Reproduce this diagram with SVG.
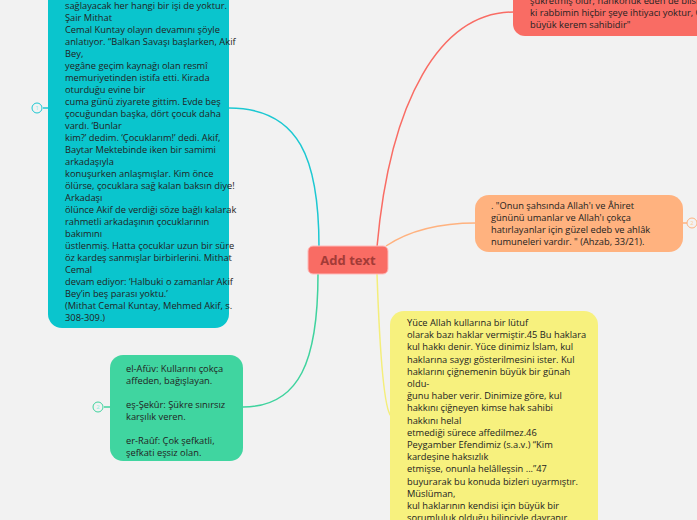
<svg xmlns="http://www.w3.org/2000/svg" width="697" height="520" viewBox="0 0 697 520">
<style>
text{font-family:"Open Sans","Noto Sans",sans-serif;font-size:9.3px;fill:#222}
.c{fill:none;stroke-width:1.5}
.m{fill:#f2f2f2;stroke-width:1}
.mt{font-size:6px;text-anchor:middle}
</style>
<rect width="697" height="520" fill="#f2f2f2"/>
<g id="connectors">
<path class="c" stroke="#1cc8d2" d="M319,247 C319,160 300,108 229,108"/>
<path class="c" stroke="#3fd39e" d="M318,274 C318,360 300,407 243,407"/>
<path class="c" stroke="#f96c64" d="M377,247 C390,100 440,12 514,12"/>
<path class="c" stroke="#ffb27f" d="M386,246 C410,230 440,223 476,223"/>
<path class="c" stroke="#f4ee7a" d="M377,274 C380,360 385,410 391,416"/>
<path class="c" stroke="#1cc8d2" d="M43,108 H48"/>
<path class="c" stroke="#3fd39e" d="M104,407 H110"/>
<path class="c" stroke="#ffb27f" d="M683,223 H687"/>
</g>
<g id="center">
<rect x="308" y="246" width="80" height="28" rx="5" fill="#f96c64" stroke="#fbb" stroke-width="1"/>
<text x="348" y="265" text-anchor="middle" style="font-size:13px;font-weight:bold;fill:#a33b37">Add text</text>
</g>
<g id="teal">
<rect x="48" y="-40" width="181" height="368" rx="14" fill="#0ac5cd"/>
<circle class="m" cx="37" cy="108" r="5" stroke="#1cc8d2"/><text class="mt" x="37" y="110" fill="#1cc8d2" style="fill:#8ee">1</text>
<text x="65" y="-3">
<tspan x="65" dy="0">peygamber</tspan>
<tspan x="65" dy="12">sağlayacak her hangi bir işi de yoktur.</tspan>
<tspan x="65" dy="12">Şair Mithat</tspan>
<tspan x="65" dy="12">Cemal Kuntay olayın devamını şöyle</tspan>
<tspan x="65" dy="12">anlatıyor. “Balkan Savaşı başlarken, Akif</tspan>
<tspan x="65" dy="12">Bey,</tspan>
<tspan x="65" dy="12">yegâne geçim kaynağı olan resmî</tspan>
<tspan x="65" dy="12">memuriyetinden istifa etti. Kirada</tspan>
<tspan x="65" dy="12">oturduğu evine bir</tspan>
<tspan x="65" dy="12">cuma günü ziyarete gittim. Evde beş</tspan>
<tspan x="65" dy="12">çocuğundan başka, dört çocuk daha</tspan>
<tspan x="65" dy="12">vardı. ‘Bunlar</tspan>
<tspan x="65" dy="12">kim?’ dedim. ‘Çocuklarım!’ dedi.  Akif,</tspan>
<tspan x="65" dy="12">Baytar Mektebinde iken bir samimi</tspan>
<tspan x="65" dy="12">arkadaşıyla</tspan>
<tspan x="65" dy="12">konuşurken anlaşmışlar. Kim önce</tspan>
<tspan x="65" dy="12">ölürse, çocuklara sağ kalan baksın diye!</tspan>
<tspan x="65" dy="12">Arkadaşı</tspan>
<tspan x="65" dy="12">ölünce Akif de verdiği söze bağlı kalarak</tspan>
<tspan x="65" dy="12">rahmetli arkadaşının çocuklarının</tspan>
<tspan x="65" dy="12">bakımını</tspan>
<tspan x="65" dy="12">üstlenmiş. Hatta çocuklar uzun bir süre</tspan>
<tspan x="65" dy="12">öz kardeş sanmışlar birbirlerini. Mithat</tspan>
<tspan x="65" dy="12">Cemal</tspan>
<tspan x="65" dy="12">devam ediyor: ‘Halbuki o zamanlar Akif</tspan>
<tspan x="65" dy="12">Bey’in beş parası yoktu.’</tspan>
<tspan x="65" dy="12">(Mithat Cemal Kuntay, Mehmed Akif, s.</tspan>
<tspan x="65" dy="12">308-309.)</tspan>
</text>
</g>
<g id="green">
<rect x="110" y="355" width="133" height="106" rx="13" fill="#40d5a0"/>
<circle class="m" cx="98" cy="407" r="5" stroke="#3fd39e"/><text class="mt" x="98" y="409" style="fill:#8ed">2</text>
<text x="126" y="372">
<tspan x="126" dy="0">el-Afüv: Kullarını çokça</tspan>
<tspan x="126" dy="12">affeden, bağışlayan.</tspan>
<tspan x="126" dy="24">eş-Şekûr: Şükre sınırsız</tspan>
<tspan x="126" dy="12">karşılık veren.</tspan>
<tspan x="126" dy="24">er-Raûf: Çok şefkatli,</tspan>
<tspan x="126" dy="12">şefkati eşsiz olan.</tspan>
</text>
</g>
<g id="red">
<rect x="513" y="-40" width="200" height="76" rx="12" fill="#f96c64"/>
<text x="530" y="4">
<tspan x="530" dy="0">şükretmiş olur; nankörlük eden de bilsin</tspan>
<tspan x="530" dy="12">ki rabbimin hiçbir şeye ihtiyacı yoktur, Ç</tspan>
<tspan x="530" dy="12">büyük kerem sahibidir"</tspan>
</text>
</g>
<g id="orange">
<rect x="475" y="195" width="208" height="57" rx="14" fill="#ffb27f"/>
<circle class="m" cx="692" cy="223" r="5" stroke="#ffb27f"/><text class="mt" x="692" y="225" style="fill:#fc9">2</text>
<text x="491" y="209">
<tspan x="491" dy="0">. "Onun şahsında Allah'ı ve Âhiret</tspan>
<tspan x="491" dy="12">gününü umanlar ve Allah'ı çokça</tspan>
<tspan x="491" dy="12">hatırlayanlar için güzel edeb ve ahlâk</tspan>
<tspan x="491" dy="12">numuneleri vardır. " (Ahzab, 33/21).</tspan>
</text>
</g>
<g id="yellow">
<rect x="390" y="311" width="208" height="230" rx="14" fill="#f7f17e"/>
<text x="407" y="326">
<tspan x="407" dy="0"> Yüce Allah kullarına bir lütuf</tspan>
<tspan x="407" dy="12.2">olarak bazı haklar vermiştir.45 Bu haklara</tspan>
<tspan x="407" dy="12.2">kul hakkı denir. Yüce dinimiz İslam, kul</tspan>
<tspan x="407" dy="12.2">haklarına saygı gösterilmesini ister. Kul</tspan>
<tspan x="407" dy="12.2">haklarını çiğnemenin büyük bir günah</tspan>
<tspan x="407" dy="12.2">oldu-</tspan>
<tspan x="407" dy="12.2">ğunu haber verir. Dinimize göre, kul</tspan>
<tspan x="407" dy="12.2">hakkını çiğneyen kimse hak sahibi</tspan>
<tspan x="407" dy="12.2">hakkını helal</tspan>
<tspan x="407" dy="12.2">etmediği sürece affedilmez.46</tspan>
<tspan x="407" dy="12.2">Peygamber Efendimiz  (s.a.v.)  “Kim</tspan>
<tspan x="407" dy="12.2">kardeşine haksızlık</tspan>
<tspan x="407" dy="12.2">etmişse, onunla helâlleşsin ...”47</tspan>
<tspan x="407" dy="12.2">buyurarak bu konuda bizleri uyarmıştır.</tspan>
<tspan x="407" dy="12.2">Müslüman,</tspan>
<tspan x="407" dy="12.2">kul haklarının kendisi için büyük bir</tspan>
<tspan x="407" dy="12.2">sorumluluk olduğu bilinciyle davranır.</tspan>
</text>
</g>
</svg>
